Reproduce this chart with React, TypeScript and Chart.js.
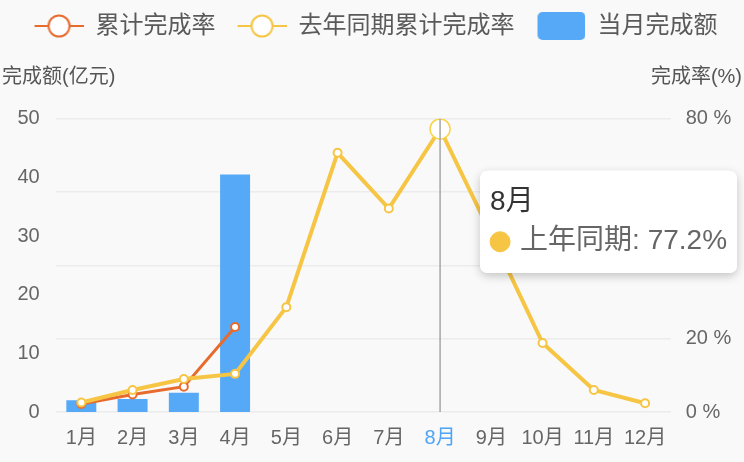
import { useEffect, useRef } from "react";
import { Chart, registerables, Tooltip } from "chart.js";

Chart.register(...registerables);

// data
const months = ["1月", "2月", "3月", "4月", "5月", "6月", "7月", "8月", "9月", "10月", "11月", "12月"];
const monthlyAmount = [2.0, 2.2, 3.3, 40.5, null, null, null, null, null, null, null, null];
const cumulativeRate = [2.2, 4.8, 6.9, 23.2, null, null, null, null, null, null, null, null];
const lastYearCumulativeRate = [2.6, 6.0, 9.0, 10.4, 28.6, 70.7, 55.5, 77.2, 48.3, 18.8, 6.0, 2.4];
const amountTicks = { min: 0, max: 50, step: 10 };
const rateTicks = { min: 0, max: 80, step: 20 };
const hoverIndex = 7;

const FONT = "'Liberation Sans', 'Noto Sans CJK SC', sans-serif";
const ORANGE = "#e86b2e";
const YELLOW = "#f6c544";
const BLUE = "#56a9f7";
const TITLE_PAD_TOP = 17;
const TITLE_PAD_BOTTOM = 29.7;

function lineIcon(color: string) {
  const c = document.createElement("canvas");
  c.width = 57;
  c.height = 26;
  const g = c.getContext("2d")!;
  g.strokeStyle = color;
  g.lineWidth = 2;
  g.beginPath();
  g.moveTo(8, 13);
  g.lineTo(57, 13);
  g.stroke();
  g.beginPath();
  g.arc(32.5, 13, 10.5, 0, Math.PI * 2);
  g.fillStyle = "#fff";
  g.fill();
  g.stroke();
  return c;
}

function boxIcon(color: string) {
  const c = document.createElement("canvas");
  c.width = 57;
  c.height = 28;
  const g = c.getContext("2d")!;
  g.fillStyle = color;
  g.beginPath();
  g.roundRect(9, 0, 48, 28, 5);
  g.fill();
  return c;
}

(Tooltip.positioners as any).rightOfPoint = function (items: any[]) {
  if (!items.length) return false;
  const el = items[0].element;
  return { x: el.x + 40, y: el.y + 93, xAlign: "left", yAlign: "center" };
};

const hoverLine = {
  id: "hoverLine",
  afterDatasetsDraw(chart: any) {
    const active = chart.tooltip?.getActiveElements?.() || [];
    if (!active.length) return;
    const x = active[0].element.x;
    const { top, bottom } = chart.chartArea;
    const ctx = chart.ctx;
    ctx.save();
    ctx.strokeStyle = "#a6a6a6";
    ctx.lineWidth = 1.5;
    ctx.beginPath();
    ctx.moveTo(x, top);
    ctx.lineTo(x, bottom);
    ctx.stroke();
    ctx.restore();
  },
};

const tooltipShadow = {
  id: "tooltipShadow",
  beforeTooltipDraw(chart: any, args: any) {
    const tt = args.tooltip;
    if (!tt || !tt.opacity) return;
    const ctx = chart.ctx;
    ctx.save();
    ctx.shadowColor = "rgba(0,0,0,0.22)";
    ctx.shadowBlur = 10;
    ctx.shadowOffsetY = 3;
    ctx.fillStyle = "#fff";
    ctx.beginPath();
    ctx.roundRect(tt.x, tt.y, tt.width, tt.height, 8);
    ctx.fill();
    ctx.restore();
  },
};

const rightAxisTitle = {
  id: "rightAxisTitle",
  afterDraw(chart: any) {
    const tb = chart.titleBlock;
    if (!tb) return;
    const ctx = chart.ctx;
    ctx.save();
    ctx.font = `20px ${FONT}`;
    ctx.fillStyle = "#555";
    ctx.textAlign = "right";
    ctx.textBaseline = "middle";
    ctx.fillText("完成率(%)", chart.width - 2, tb.top + TITLE_PAD_TOP + 12);
    ctx.restore();
  },
};

export default function App() {
  const canvasRef = useRef<HTMLCanvasElement | null>(null);

  useEffect(() => {
    document.body.style.margin = "0";
    if (!canvasRef.current) return;
    const icons = [lineIcon(ORANGE), lineIcon(YELLOW), boxIcon(BLUE)];

    const chart = new Chart(canvasRef.current, {
      type: "bar",
      data: {
        labels: months,
        datasets: [
          {
            type: "line",
            label: "累计完成率",
            data: cumulativeRate,
            yAxisID: "y1",
            borderColor: ORANGE,
            borderWidth: 3,
            pointRadius: 4,
            pointBorderWidth: 2,
            pointBackgroundColor: "#fff",
            pointBorderColor: ORANGE,
            tension: 0,
            order: 1,
          } as any,
          {
            type: "line",
            label: "去年同期累计完成率",
            data: lastYearCumulativeRate,
            yAxisID: "y1",
            borderColor: YELLOW,
            borderWidth: 4,
            pointRadius: 4,
            pointBorderWidth: 2,
            pointBackgroundColor: "#fff",
            pointBorderColor: YELLOW,
            pointHoverRadius: 10,
            pointHoverBorderWidth: 1.5,
            pointHoverBackgroundColor: "#fff",
            pointHoverBorderColor: "#f8d34c",
            tension: 0,
            order: 0,
          } as any,
          {
            type: "bar",
            label: "当月完成额",
            data: monthlyAmount,
            yAxisID: "y",
            backgroundColor: BLUE,
            barPercentage: 0.585,
            categoryPercentage: 1,
            order: 2,
          } as any,
        ],
      },
      options: {
        responsive: false,
        animation: false,
        events: [],
        layout: { padding: { left: 2, right: 2, top: 0, bottom: 12 } },
        font: { family: FONT },
        scales: {
          x: {
            offset: true,
            grid: { display: false, drawTicks: false },
            border: { display: false },
            ticks: {
              padding: 14,
              font: { family: FONT, size: 20 },
              color: (c: any) => (c.index === hoverIndex ? "#4ea4f6" : "#666"),
            },
            afterFit: (s: any) => {
              s.height = 38;
            },
          },
          y: {
            position: "left",
            min: amountTicks.min,
            max: amountTicks.max,
            grid: { display: false, drawTicks: false },
            border: { display: false },
            ticks: { stepSize: amountTicks.step, padding: 16, color: "#666", font: { family: FONT, size: 20 } },
            afterFit: (s: any) => {
              s.width = 53.7;
            },
          },
          y1: {
            position: "right",
            min: rateTicks.min,
            max: rateTicks.max,
            grid: { color: "#ececec", lineWidth: 1.5, drawTicks: false },
            border: { display: false },
            ticks: {
              stepSize: rateTicks.step,
              padding: 15,
              color: "#666",
              font: { family: FONT, size: 20 },
              callback: (v: any) => `${v} %`,
            },
            afterFit: (s: any) => {
              s.width = 71.3;
            },
          },
        },
        plugins: {
          legend: {
            position: "top",
            labels: {
              usePointStyle: true,
              pointStyleWidth: 57,
              padding: 14,
              color: "#5a5a5a",
              font: { family: FONT, size: 24 },
              sort: (a: any, b: any) => a.datasetIndex - b.datasetIndex,
              generateLabels: (ch: any) => {
                const items = Chart.defaults.plugins.legend.labels.generateLabels(ch);
                items.forEach((it: any) => {
                  it.pointStyle = icons[it.datasetIndex];
                  it.rotation = 0;
                });
                return items;
              },
            },
          },
          title: {
            display: true,
            text: "完成额(亿元)",
            align: "start",
            weight: 500,
            color: "#555",
            font: { family: FONT, size: 20, weight: "normal" },
            padding: { top: TITLE_PAD_TOP, bottom: TITLE_PAD_BOTTOM },
          } as any,
          tooltip: {
            position: "rightOfPoint" as any,
            backgroundColor: "#fff",
            titleColor: "#333",
            bodyColor: "#666",
            titleFont: { family: FONT, size: 28, weight: "normal" },
            bodyFont: { family: FONT, size: 28 },
            titleMarginBottom: 6,
            padding: { left: 10, right: 10, top: 14.5, bottom: 14.5 },
            cornerRadius: 8,
            caretSize: 0,
            caretPadding: 0,
            displayColors: true,
            usePointStyle: true,
            boxWidth: 20,
            boxHeight: 20,
            boxPadding: 8,
            callbacks: {
              title: (items: any[]) => items[0].label,
              label: (item: any) => `上年同期: ${item.parsed.y}%`,
              labelColor: () => ({ borderColor: YELLOW, backgroundColor: YELLOW }),
              labelPointStyle: () => ({ pointStyle: "circle", rotation: 0 }),
            },
          } as any,
        },
      },
      plugins: [hoverLine, tooltipShadow, rightAxisTitle],
    });

    const active = [{ datasetIndex: 1, index: hoverIndex }];
    chart.setActiveElements(active);
    chart.tooltip?.setActiveElements(active, { x: 0, y: 0 });
    chart.update();

    return () => {
      chart.destroy();
    };
  }, []);

  return (
    <div style={{ width: 744, height: 462, background: "#f9f9f9" }}>
      <canvas ref={canvasRef} width={744} height={462} />
    </div>
  );
}
